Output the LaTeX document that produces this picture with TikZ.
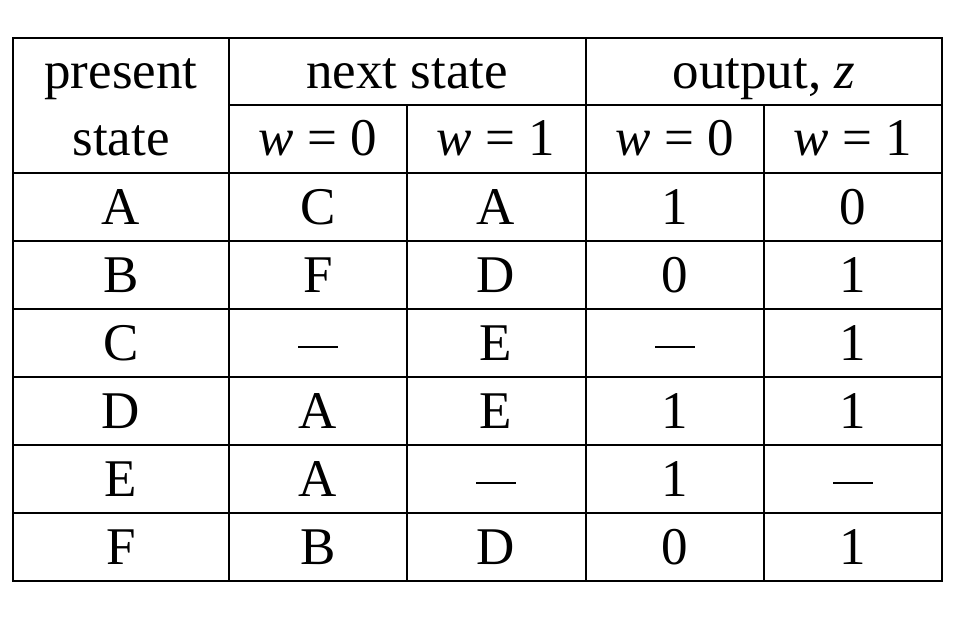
\documentclass[tikz,border=0pt]{standalone}
\usepackage{fontspec}
\setmainfont{Liberation Serif}
\newcommand{\dsh}{\rule[0.22em]{0.74em}{0.045em}}
\begin{document}
\begin{tikzpicture}[x=1pt,y=-1pt,line width=1.8pt,
  cell/.style={font=\fontsize{53}{56}\selectfont,inner sep=0pt,anchor=base}]
\useasboundingbox (0,0) rectangle (960,640);
\draw (13,38) rectangle (942,581);
\draw (229,38) -- (229,581);
\draw (586,38) -- (586,581);
\draw (407,105) -- (407,581);
\draw (764,105) -- (764,581);
\draw (229,105) -- (942,105);
\foreach \y in {173,241,309,377,445,513} \draw (13,\y) -- (942,\y);
\node[cell] (p1) at (121,88) {present};
\node[cell] (p2) at (121,155) {state};
\node[cell] (ns) at (407,88) {next state};
\node[cell] (oz) at (764,88) {output, \textit{z}};
\node[cell] (h1) at (318,155) {\textit{w} = 0};
\node[cell] (h2) at (496,155) {\textit{w} = 1};
\node[cell] (h3) at (675,155) {\textit{w} = 0};
\node[cell] (h4) at (853,155) {\textit{w} = 1};
\foreach \a/\b/\c/\d/\e [count=\i] in {A/C/A/1/0,B/F/D/0/1,C/\dsh/E/\dsh/1,D/A/E/1/1,E/A/\dsh/1/\dsh,F/B/D/0/1}{
  \pgfmathsetmacro\yy{224+68*(\i-1)}
  \node[cell] (r\i a) at (121,\yy) {\a};
  \node[cell] (r\i b) at (318,\yy) {\b};
  \node[cell] (r\i c) at (496,\yy) {\c};
  \node[cell] (r\i d) at (675,\yy) {\d};
  \node[cell] (r\i e) at (853,\yy) {\e};
}
\end{tikzpicture}
\end{document}
